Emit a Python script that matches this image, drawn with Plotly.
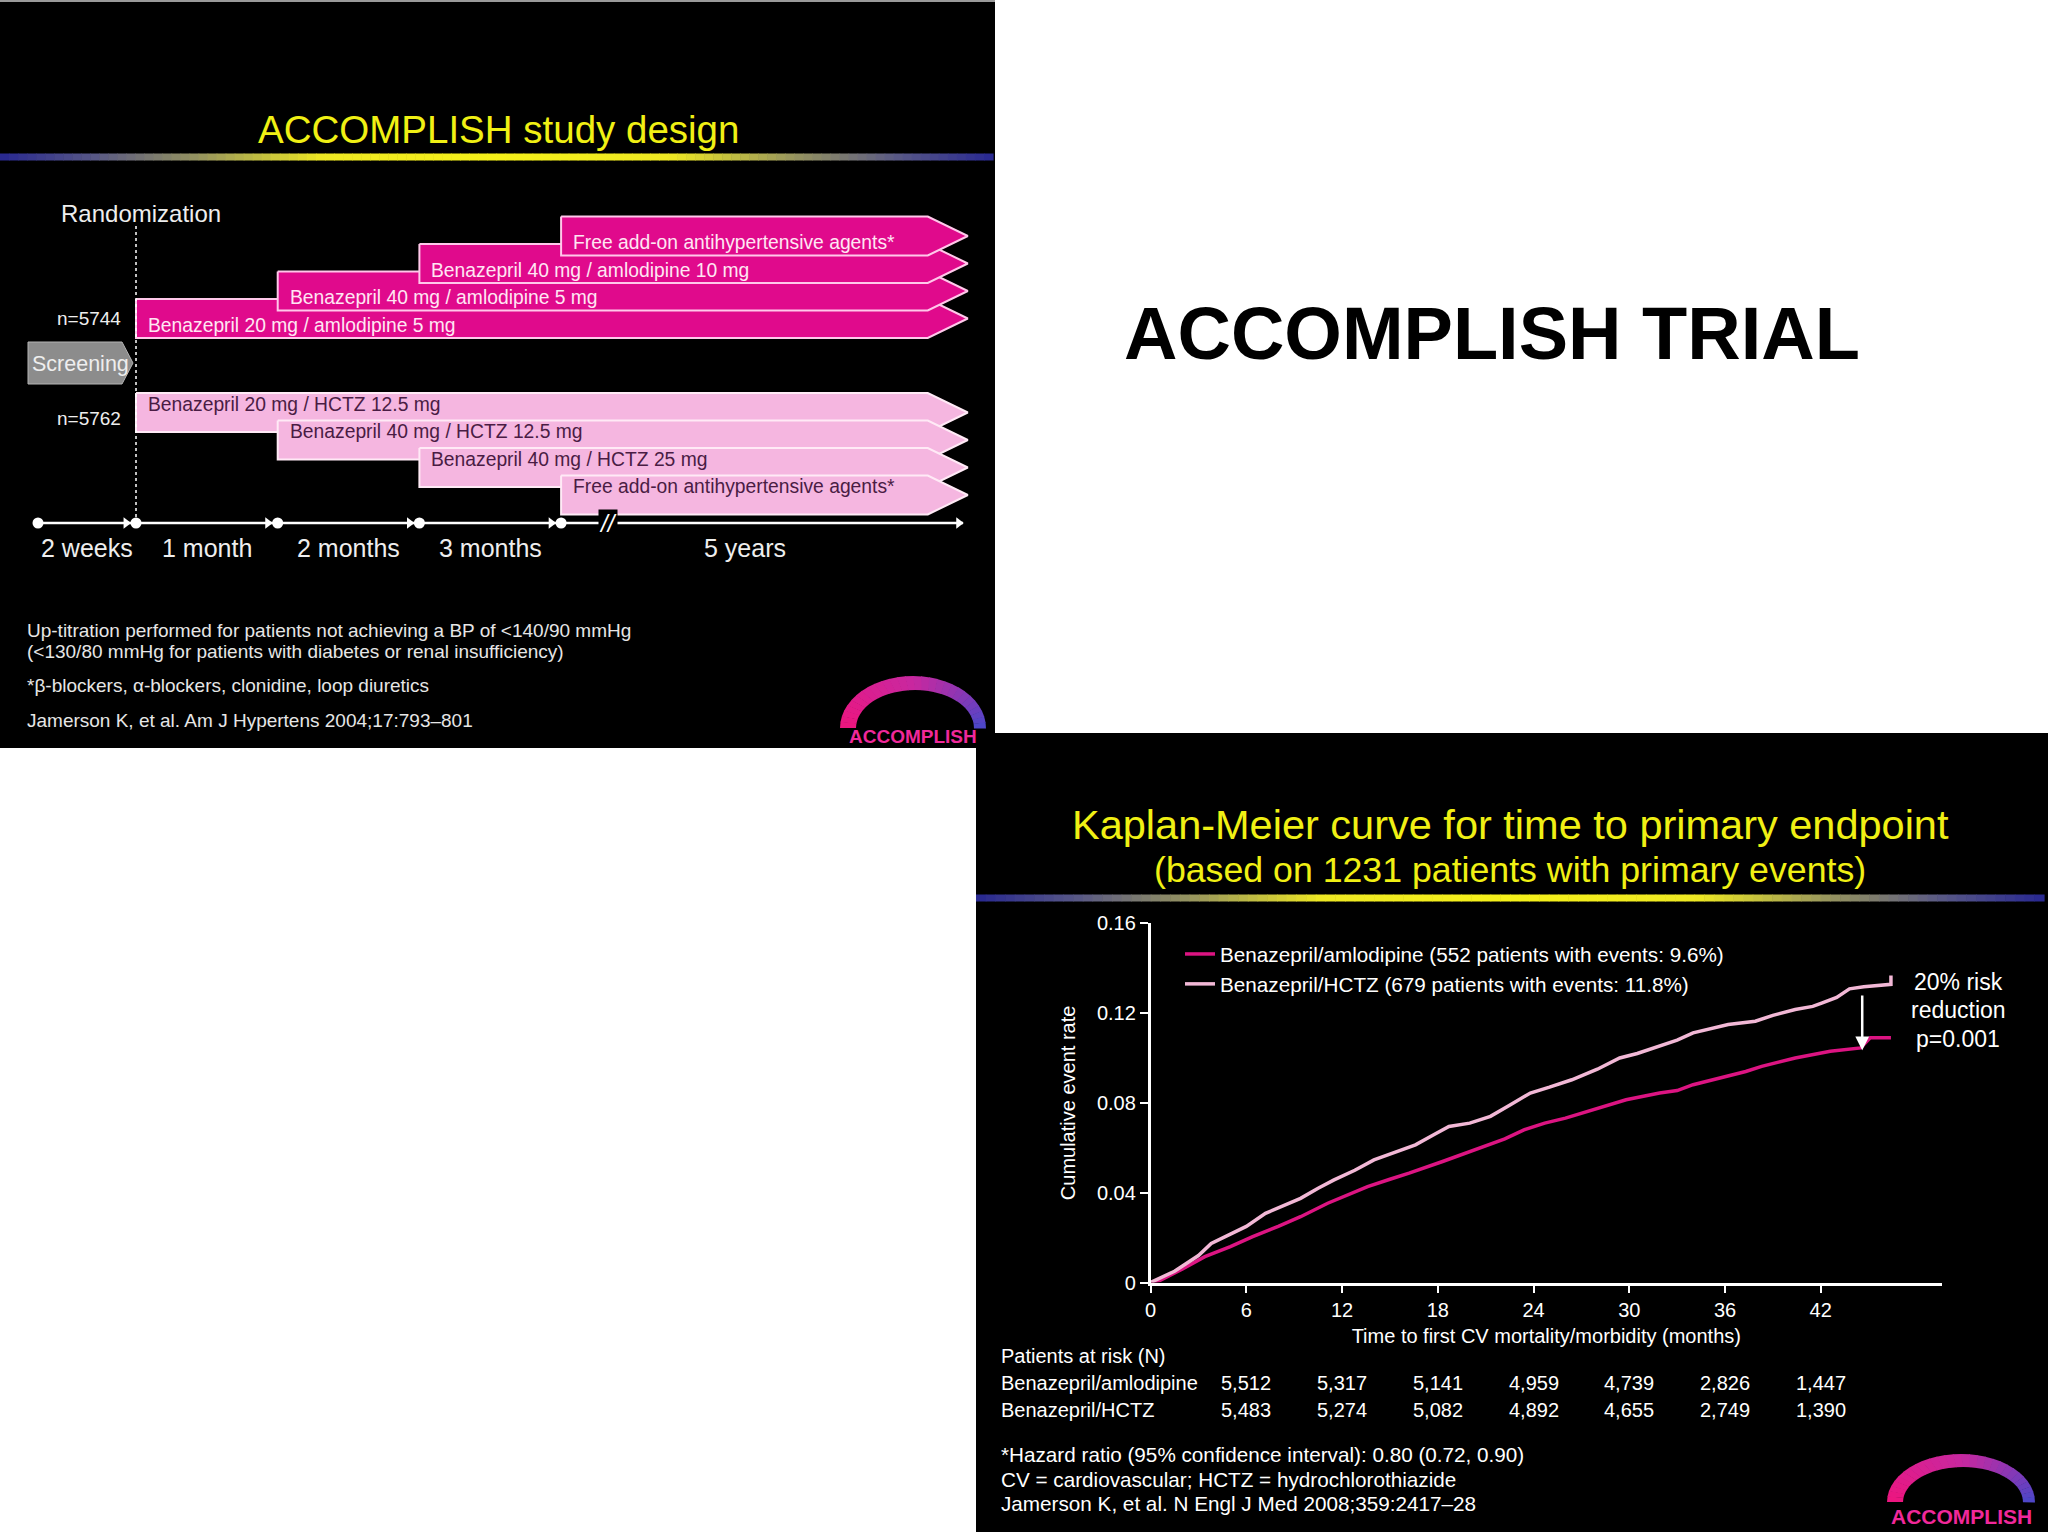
import math
import plotly.graph_objects as go

W, H = 2048, 1536
FONT = "Liberation Sans, Arial, sans-serif"

# ------------------------------------------------------------------ data
design_title = "ACCOMPLISH study design"
phase_labels = ["2 weeks", "1 month", "2 months", "3 months", "5 years"]
step_start_phase = [0, 1, 2, 3]
amlo_steps = ["Benazepril 20 mg / amlodipine 5 mg",
              "Benazepril 40 mg / amlodipine 5 mg",
              "Benazepril 40 mg / amlodipine 10 mg",
              "Free add-on antihypertensive agents*"]
hctz_steps = ["Benazepril 20 mg / HCTZ 12.5 mg",
              "Benazepril 40 mg / HCTZ 12.5 mg",
              "Benazepril 40 mg / HCTZ 25 mg",
              "Free add-on antihypertensive agents*"]
arm_n = ["n=5744", "n=5762"]
design_notes = ["Up-titration performed for patients not achieving a BP of &lt;140/90 mmHg",
                "(&lt;130/80 mmHg for patients with diabetes or renal insufficiency)",
                "*\u03b2-blockers, \u03b1-blockers, clonidine, loop diuretics",
                "Jamerson K, et al. Am J Hypertens 2004;17:793\u2013801"]

km_title = ["Kaplan-Meier curve for time to primary endpoint",
            "(based on 1231 patients with primary events)"]
series_names = ["Benazepril/amlodipine (552 patients with events: 9.6%)",
                "Benazepril/HCTZ (679 patients with events: 11.8%)"]
amlo_months = [0, 0.6, 2.0, 3.4, 5.0, 6.4, 8.0, 9.4, 11.1, 12.3, 13.6, 15.0, 16.2, 18.3,
               19.5, 20.9, 22.2, 23.4, 24.7, 26.0, 27.7, 29.8, 31.9, 33.0, 34.0, 36.2,
               37.3, 38.3, 40.4, 42.6, 44.5, 45.1, 46.4]
amlo_rate = [0, 0.001, 0.006, 0.0115, 0.016, 0.0204, 0.025, 0.0293, 0.0353, 0.039, 0.0427,
             0.046, 0.0487, 0.0539, 0.057, 0.0606, 0.064, 0.068, 0.071, 0.0732, 0.077,
             0.0814, 0.0844, 0.0855, 0.0881, 0.0918, 0.094, 0.0963, 0.100, 0.103, 0.1045,
             0.109, 0.109]
hctz_months = [0, 1.5, 3.0, 3.8, 5.1, 6.0, 7.2, 8.3, 9.4, 10.5, 11.5, 12.8, 14.0, 15.3,
               16.6, 17.8, 18.7, 20.0, 21.3, 22.5, 23.8, 25.0, 26.4, 28.0, 29.4, 30.5,
               31.5, 33.0, 34.0, 35.0, 36.2, 37.9, 39.0, 40.4, 41.5, 42.1, 43.0, 43.8,
               44.7, 46.4, 46.4]
hctz_rate = [0, 0.005, 0.012, 0.0174, 0.0219, 0.025, 0.0308, 0.034, 0.0375, 0.042, 0.0457,
             0.050, 0.0546, 0.058, 0.0613, 0.066, 0.0695, 0.071, 0.074, 0.079, 0.0844,
             0.087, 0.0903, 0.095, 0.100, 0.102, 0.1045, 0.108, 0.1112, 0.113, 0.1149,
             0.1164, 0.119, 0.1216, 0.123, 0.1246, 0.127, 0.1308, 0.1317, 0.1328, 0.1368]
x_ticks = [0, 6, 12, 18, 24, 30, 36, 42]
y_ticks = [0, 0.04, 0.08, 0.12, 0.16]
y_ticktext = ["0", "0.04", "0.08", "0.12", "0.16"]
risk_months = [6, 12, 18, 24, 30, 36, 42]
risk_amlo = [5512, 5317, 5141, 4959, 4739, 2826, 1447]
risk_hctz = [5483, 5274, 5082, 4892, 4655, 2749, 1390]
risk_labels = ["Patients at risk (N)", "Benazepril/amlodipine", "Benazepril/HCTZ"]
km_notes = ["*Hazard ratio (95% confidence interval): 0.80 (0.72, 0.90)",
            "CV = cardiovascular; HCTZ = hydrochlorothiazide",
            "Jamerson K, et al. N Engl J Med 2008;359:2417\u201328"]
risk_text = ["20% risk", "reduction", "p=0.001"]
arrow_from_to = [0.1285, 0.1035]
arrow_month = 44.6

# ------------------------------------------------------------------ styles / layout constants
MAGENTA = "#E00A8C"
MAGENTA_EDGE = "#FFC8EA"
PINK = "#F5B6E0"
PINK_TXT = "#4A1C44"
CURVE_M = "#DC1482"
CURVE_P = "#F2B8D6"
YELLOW = "#F0F014"

PH = 141.7          # pixels per design phase
RX = 136            # randomisation x (px)
SCREEN_LEN = 98 / PH
TIMELINE_Y = 523
BAR_H = 39
BAR_STEP = 27.5
TIP = 5.87
HEAD = 40 / PH

shapes, annotations = [], []


def px(x):
    return x / W


def py(y):
    return 1 - y / H


def txt(x, y, s, size, color="white", anchor="left", family=FONT, **kw):
    annotations.append(dict(x=px(x), y=py(y), xref="paper", yref="paper", text=s,
                            showarrow=False, xanchor=anchor, yanchor="middle",
                            font=dict(size=size, color=color, family=family), **kw))


def rect(x0, y0, x1, y1, color, layer="below"):
    shapes.append(dict(type="rect", xref="paper", yref="paper", x0=px(x0), x1=px(x1),
                       y0=py(y1), y1=py(y0), fillcolor=color, line=dict(width=0), layer=layer))


def lerp(c0, c1, t):
    return tuple(int(round(a + (b - a) * t)) for a, b in zip(c0, c1))


def grad_color(t):
    stops = [(0, (245, 240, 25)), (0.35, (238, 232, 35)), (0.6, (150, 148, 95)),
             (0.82, (85, 85, 135)), (1.0, (40, 40, 145))]
    for (t0, c0), (t1, c1) in zip(stops[:-1], stops[1:]):
        if t <= t1:
            c = lerp(c0, c1, (t - t0) / (t1 - t0))
            return "rgb(%d,%d,%d)" % c
    return "rgb(40,40,145)"


def grad_line(x0, x1, yc, th, n=110):
    c, hw = (x0 + x1) / 2, (x1 - x0) / 2
    for k in range(n):
        xa = x0 + (x1 - x0) * k / n
        xb = x0 + (x1 - x0) * (k + 1) / n + 0.6
        t = min(1.0, abs((xa + xb) / 2 - c) / hw)
        rect(xa, yc - th / 2, xb, yc + th / 2, grad_color(t), layer="above")


def logo(cx, cy, rxo, ryo, icx, rxi, ryi, text_y, size, n=28):
    c_left, c_mid, c_right = (236, 22, 128), (200, 40, 160), (78, 70, 200)
    for k in range(n):
        a0 = math.pi * (1 - k / n)
        a1 = math.pi * (1 - (k + 1) / n) - 0.01
        pts = [(cx + rxo * math.cos(a0), cy - ryo * math.sin(a0)),
               (cx + rxo * math.cos(a1), cy - ryo * math.sin(a1)),
               (icx + rxi * math.cos(a1), cy - ryi * math.sin(a1)),
               (icx + rxi * math.cos(a0), cy - ryi * math.sin(a0))]
        path = "M " + " L ".join("%.5f,%.5f" % (px(a), py(b)) for a, b in pts) + " Z"
        t = k / (n - 1)
        col = lerp(c_left, c_mid, t * 2) if t < 0.5 else lerp(c_mid, c_right, (t - 0.5) * 2)
        shapes.append(dict(type="path", xref="paper", yref="paper", path=path,
                           fillcolor="rgb(%d,%d,%d)" % col, line=dict(width=0), layer="above"))
    txt(cx, text_y, "<b>ACCOMPLISH</b>", size, color="#F0289A", anchor="center")


# ------------------------------------------------------------------ background panels
rect(0, 0, 995, 748, "black")
rect(0, 0, 995, 2, "#9a9a9a")
rect(976, 733, 2048, 1532, "black")

grad_line(0, 993, 157, 7)
grad_line(976, 2044, 898, 7)

# ------------------------------------------------------------------ study design (x/y axes)
fig = go.Figure()


def u(pxv):
    return (pxv - RX) / PH


def bar(start, top, fill, line_col):
    xs = [start, TIP - HEAD, TIP, TIP - HEAD, start, start]
    ys = [top, top, top + BAR_H / 2, top + BAR_H, top + BAR_H, top]
    fig.add_trace(go.Scatter(x=xs, y=ys, mode="lines", fill="toself", fillcolor=fill,
                             line=dict(color=line_col, width=2), hoverinfo="skip",
                             showlegend=False, xaxis="x", yaxis="y"))


for i, (s, lab) in enumerate(zip(step_start_phase, amlo_steps)):
    top = 299 - BAR_STEP * i
    bar(s, top, MAGENTA, MAGENTA_EDGE)
    annotations.append(dict(x=s + 10 / PH, y=top + 26, xref="x", yref="y", text=lab,
                            showarrow=False, xanchor="left", yanchor="middle",
                            font=dict(size=19.3, color="#FFE6F3", family=FONT)))
for i, (s, lab) in enumerate(zip(step_start_phase, hctz_steps)):
    top = 393 + BAR_STEP * i
    bar(s, top, PINK, "#FFEAF6")
    annotations.append(dict(x=s + 10 / PH, y=top + 11, xref="x", yref="y", text=lab,
                            showarrow=False, xanchor="left", yanchor="middle",
                            font=dict(size=19.3, color=PINK_TXT, family=FONT)))

# screening arrow
sx = [u(28), u(122), u(133), u(122), u(28), u(28)]
sy = [342, 342, 363, 384, 384, 342]
fig.add_trace(go.Scatter(x=sx, y=sy, mode="lines", fill="toself", fillcolor="#8c8c8c",
                         line=dict(color="#b4b4b4", width=1), hoverinfo="skip",
                         showlegend=False, xaxis="x", yaxis="y"))
annotations.append(dict(x=u(80), y=364, xref="x", yref="y", text="Screening",
                        showarrow=False, font=dict(size=21.5, color="#EEEEEE", family=FONT)))

# timeline
nodes = [-SCREEN_LEN, 0, 1, 2, 3]
t_end = u(963)
fig.add_trace(go.Scatter(x=[nodes[0], t_end], y=[TIMELINE_Y, TIMELINE_Y], mode="lines",
                         line=dict(color="white", width=2.5), hoverinfo="skip",
                         showlegend=False))
fig.add_trace(go.Scatter(x=[n - 0.07 for n in nodes[1:]] + [t_end - 0.03],
                         y=[TIMELINE_Y] * 5, mode="markers",
                         marker=dict(symbol="triangle-right", size=10, color="white"),
                         hoverinfo="skip", showlegend=False))
fig.add_trace(go.Scatter(x=nodes, y=[TIMELINE_Y] * len(nodes), mode="markers",
                         marker=dict(symbol="circle", size=11, color="white"),
                         hoverinfo="skip", showlegend=False))
annotations.append(dict(x=u(608), y=TIMELINE_Y, xref="x", yref="y", text="<i>//</i>",
                        showarrow=False, bgcolor="black", borderpad=0,
                        font=dict(size=24, color="white", family=FONT)))
label_centres = [-SCREEN_LEN / 2, 0.5, 1.5, 2.5, 4.3]
for xc, lab in zip(label_centres, phase_labels):
    annotations.append(dict(x=xc, y=548, xref="x", yref="y", text=lab, showarrow=False,
                            font=dict(size=25, color="#EEEEEE", family=FONT)))

# randomisation dashed line
shapes.append(dict(type="line", xref="x", yref="y", x0=0, x1=0, y0=226, y1=TIMELINE_Y,
                   line=dict(color="white", width=1.5, dash="dot"), layer="above"))
txt(59, 213, "Randomization", 24, color="#EEEEEE")
txt(89, 318, arm_n[0], 19, color="#EEEEEE", anchor="center")
txt(89, 419, arm_n[1], 19, color="#EEEEEE", anchor="center")

txt(498, 129, design_title, 38.5, color=YELLOW, anchor="center")
for yy, s in zip([630, 651, 686, 720], design_notes):
    txt(25, yy, s, 19, color="#E6E6E6")

logo(913, 728, 73, 52, 915, 59, 38, 737, 19)

# ------------------------------------------------------------------ big title
txt(1492, 334, "<b>ACCOMPLISH TRIAL</b>", 74, color="black", anchor="center")

# KM panel again over top-left logo corner
rect(976, 733, 995, 748, "black", layer="above")

# ------------------------------------------------------------------ KM chart (x2/y2)
fig.add_trace(go.Scatter(x=amlo_months, y=amlo_rate, mode="lines", name=series_names[0],
                         line=dict(color=CURVE_M, width=3.5), xaxis="x2", yaxis="y2"))
fig.add_trace(go.Scatter(x=hctz_months, y=hctz_rate, mode="lines", name=series_names[1],
                         line=dict(color=CURVE_P, width=3.5), xaxis="x2", yaxis="y2"))

annotations.append(dict(x=arrow_month, y=arrow_from_to[1], ax=arrow_month, ay=arrow_from_to[0],
                        xref="x2", yref="y2", axref="x2", ayref="y2", text="",
                        showarrow=True, arrowhead=2, arrowsize=1.1, arrowwidth=2.5,
                        arrowcolor="white"))
for yy, s in zip([982, 1010, 1039], risk_text):
    txt(1958, yy, s, 23, anchor="center")

txt(1510, 824, km_title[0], 41.5, color=YELLOW, anchor="center")
txt(1510, 870, km_title[1], 35.7, color=YELLOW, anchor="center")

txt(999, 1356, risk_labels[0], 20)
txt(999, 1383, risk_labels[1], 20)
txt(999, 1410, risk_labels[2], 20)
for m, a, b in zip(risk_months, risk_amlo, risk_hctz):
    for yy, v in ((1383, a), (1410, b)):
        annotations.append(dict(x=m, y=py(yy), xref="x2", yref="paper", text=f"{v:,}",
                                showarrow=False, xanchor="center", yanchor="middle",
                                font=dict(size=20, color="white", family=FONT)))
for yy, s in zip([1454, 1479, 1503], km_notes):
    txt(999, yy, s, 20.7)

logo(1961, 1502, 74, 48, 1963, 60, 35, 1516, 21)

axis_font = dict(size=20, color="white", family=FONT)
fig.update_layout(
    width=W, height=H, margin=dict(l=0, r=0, t=0, b=0, pad=0, autoexpand=False),
    paper_bgcolor="white", plot_bgcolor="rgba(0,0,0,0)",
    font=dict(family=FONT),
    xaxis=dict(domain=[0, 995 / W], range=[u(0), u(995)], visible=False, fixedrange=True,
               automargin=False),
    yaxis=dict(domain=[py(748), 1], range=[748, 0], visible=False, fixedrange=True,
               automargin=False),
    xaxis2=dict(domain=[px(1150.6), px(1942)], range=[0, 49.6], anchor="y2",
                tickvals=x_ticks, ticks="outside", ticklen=8, tickwidth=2, tickcolor="white",
                showline=True, linecolor="white", linewidth=2.5, showgrid=False,
                zeroline=False, tickfont=axis_font, automargin=False,
                title=dict(text="Time to first CV mortality/morbidity (months)",
                           font=axis_font, standoff=9)),
    yaxis2=dict(domain=[py(1282.5), py(923.3)], range=[0, 0.16], anchor="x2",
                tickvals=y_ticks, ticktext=y_ticktext, ticks="outside", ticklen=8,
                tickwidth=2, tickcolor="white", showline=True, linecolor="white",
                linewidth=2.5, showgrid=False, zeroline=False, tickfont=axis_font,
                automargin=False,
                title=dict(text="Cumulative event rate", font=axis_font, standoff=16)),
    legend=dict(x=px(1180), y=py(934), xanchor="left", yanchor="top",
                bgcolor="rgba(0,0,0,0)", font=dict(size=20.7, color="white", family=FONT),
                itemwidth=30, tracegroupgap=0),
    shapes=shapes, annotations=annotations,
)

fig.write_html(
    "out.html",
    config={"displayModeBar": False},
    post_script=("document.body.style.margin='0px';document.body.style.padding='0px';"
                 "document.documentElement.style.overflow='hidden';"
                 "document.body.style.overflow='hidden';"),
)
